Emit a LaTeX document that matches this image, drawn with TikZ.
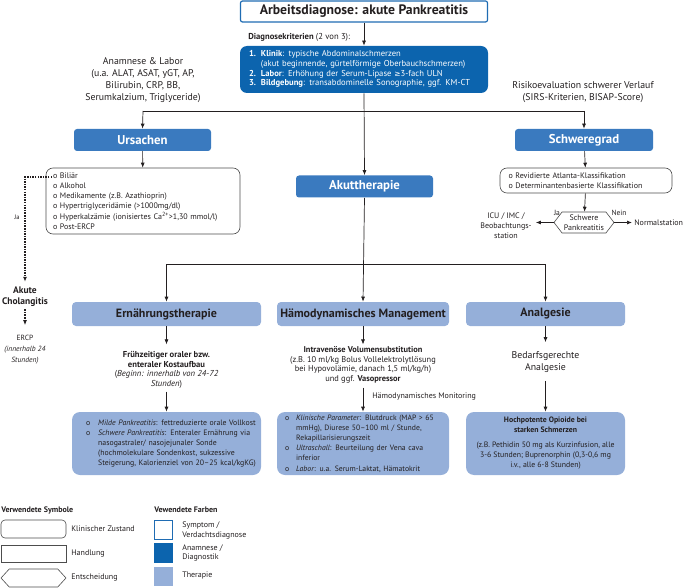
\documentclass[tikz,border=0pt]{standalone}
\usepackage{fontspec}
\setmainfont{PT Sans}
\newfontfamily\djv{DejaVu Sans}
\usetikzlibrary{arrows.meta,shapes.symbols}
\definecolor{dblue}{HTML}{0C64AE}
\definecolor{mblue}{HTML}{3A7ABF}
\definecolor{lblue}{HTML}{95AFD9}
\definecolor{tborder}{HTML}{1F6CB3}
\definecolor{txt}{HTML}{231F20}
\definecolor{gborder}{HTML}{4D4D4D}
\newcommand{\fsz}[2]{\fontsize{#1}{#2}\selectfont}
\begin{document}
\begin{tikzpicture}[x=1pt,y=-1pt,line width=0.7pt,
  arr/.style={-{Latex[length=5pt,width=4pt]},draw=txt},
  ln/.style={draw=txt},
  dotc/.style={draw=txt,line width=1.1pt,dash pattern=on 1.5pt off 1.1pt},
  hdr/.style={rounded corners=3pt,fill=mblue,text=white,font=\fsz{12.8}{14}\bfseries,minimum height=22,inner sep=0},
  ther/.style={rounded corners=4pt,fill=lblue,text=txt,font=\fsz{12}{13}\bfseries,minimum height=24,inner sep=0},
  tbox/.style={rounded corners=8pt,fill=lblue,text=txt,font=\fsz{7.8}{10},minimum height=63,inner sep=0},
  state/.style={draw=gborder,rounded corners=7pt,line width=0.6pt,inner sep=0,text=txt},
  tx/.style={text=txt,align=center,inner sep=0},
  hexa/.style={signal,signal to=west and east,draw=gborder,line width=0.6pt,inner sep=0}
]
\path[use as bounding box] (0,0) rectangle (685,588);

% title and diagnostics
\node[draw=tborder,line width=1.2pt,fill=white,rounded corners=2pt,minimum width=247,minimum height=21,inner sep=0,text=txt,font=\fsz{13.7}{15}\bfseries] (title) at (364,11.5) {Arbeitsdiagnose: akute Pankreatitis};
\node[anchor=west,tx,font=\fsz{8.6}{10}] (dklab) at (248,37) {\textbf{Diagnosekriterien} (2 von 3):};
\node[fill=dblue,rounded corners=7pt,minimum width=248,minimum height=47,text=white,inner sep=0,text width=230,align=left,font=\fsz{8.6}{9.7}] (diag) at (364,69.5) {\begin{tabular}{@{}l@{\hspace{5pt}}l@{}}\textbf{1.} & \textbf{Klinik}: typische Abdominalschmerzen\\ & (akut beginnende, gürtelförmige Oberbauchschmerzen)\\ \textbf{2.} & \textbf{Labor}: Erhöhung der Serum-Lipase {\djv\fsz{7.5}{9}≥}3-fach ULN\\ \textbf{3.} & \textbf{Bildgebung}: transabdominelle Sonographie, ggf. KM-CT\end{tabular}};
\draw[arr] (title) -- (diag);

% left: Ursachen
\node[tx,font=\fsz{9.8}{12}] (anam) at (143,80.5) {Anamnese \& Labor\\(u.a. ALAT, ASAT, yGT, AP,\\Bilirubin, CRP, BB,\\Serumkalzium, Triglyceride)};
\node[hdr,minimum width=137] (urs) at (142.5,140) {Ursachen};
\node[state,minimum width=194,minimum height=66,text width=180,align=left,font=\fsz{8}{10.2}] (urslist) at (143,201) {o Biliär\\o Alkohol\\o Medikamente (z.B. Azathioprin)\\o Hypertriglyceridämie (>1000mg/dl)\\o Hyperkalzämie (ionisiertes Ca\textsuperscript{2+}>1,30 mmol/l)\\o Post-ERCP};
\coordinate (bil) at (52,177);
\node[tx,font=\fsz{9.5}{11}\bfseries] (chol) at (25,297) {Akute\\Cholangitis};
\node[tx,font=\fsz{7.5}{11}] (ercp) at (25,350) {ERCP\\\textit{(innerhalb 24}\\\textit{Stunden)}};
\node[tx,font=\fsz{6.5}{7}] (ja1) at (17,217) {Ja};
\draw[dotc,-{Latex[length=5pt,width=4pt]}] (bil) -| ([yshift=5pt]chol.north);
\draw[dotc,-{Latex[length=5pt,width=4pt]},shorten <=2pt,shorten >=10pt] (chol.south) -- (ercp.north);

% right: Schweregrad
\node[tx,font=\fsz{9.8}{12}] (risk) at (583,92) {Risikoevaluation schwerer Verlauf\\(SIRS-Kriterien, BISAP-Score)};
\node[hdr,minimum width=138] (schw) at (584,140) {Schweregrad};
\node[state,minimum width=172,minimum height=25,text width=155,align=left,font=\fsz{8}{10}] (schwlist) at (586,180.5) {o Revidierte Atlanta-Klassifikation\\o Determinantenbasierte Klassifikation};
\node[hexa,signal pointer angle=105,minimum width=60,minimum height=21,tx,font=\fsz{8}{9.5}] (hex) at (584,222.5) {Schwere\\Pankreatitis};
\node[tx,font=\fsz{8}{10}] (icu) at (506,226) {ICU / IMC /\\Beobachtungs-\\station};
\node[anchor=west,tx,font=\fsz{8}{10}] (norm) at (634,222.5) {Normalstation};
\node[tx,font=\fsz{7.5}{9}] (ja2) at (557,213) {Ja};
\node[tx,font=\fsz{7.5}{9}] (nein) at (619,213) {Nein};
\draw[arr] (schwlist) -- (hex);
\draw[arr,shorten >=4pt] (hex.west) -- (hex.west -| icu.east);
\draw[arr,shorten >=2pt] (hex.east) -- (norm.west);

% center: Akuttherapie
\node[hdr,minimum width=137] (akut) at (364.5,186.5) {Akuttherapie};
\coordinate (hl) at (143,111);
\coordinate (hr) at (584,111);
\draw[ln] (hl) -- (hr);
\draw[arr] (hl) -- (urs.north);
\draw[arr] (hr) -- (schw.north);
\draw[arr] (diag.south) -- (akut.north);
\draw[arr] (urs) -- (urslist);
\draw[arr] (schw) -- (schwlist);

% therapy columns
\node[ther,minimum width=189] (ern) at (166.5,314) {Ernährungstherapie};
\node[ther,minimum width=172] (ham) at (363,314) {Hämodynamisches Management};
\node[ther,minimum width=159] (ana) at (545.5,314) {Analgesie};
\coordinate (tl) at (166.5,264);
\coordinate (tr) at (545.5,264);
\draw[ln] (tl) -- (tr);
\draw[arr] (tl) -- (ern.north);
\draw[arr] (tr) -- (ana.north);
\draw[arr] (akut.south) -- (ham.north);

\node[tx,font=\fsz{8.6}{9.5}] (ernt) at (166.5,370) {\textbf{Frühzeitiger oraler bzw.}\\\textbf{enteraler Kostaufbau}\\(\textit{Beginn: innerhalb von 24-72}\\\textit{Stunden})};
\node[tx,font=\fsz{8.4}{9.5}] (hamt) at (363,365) {\textbf{Intravenöse Volumensubstitution}\\(z.B. 10 ml/kg Bolus Vollelektrolytlösung\\bei Hypovolämie, danach 1,5 ml/kg/h)\\und ggf. \textbf{Vasopressor}};
\node[tx,font=\fsz{9.8}{12}] (anat) at (545.5,362) {Bedarfsgerechte\\Analgesie};

\node[tbox,minimum width=189,text width=161,align=left] (ernb) at (166.5,443.5) {\begin{tabular}{@{}l@{\hspace{8pt}}l@{}}o & \textit{Milde Pankreatitis}: fettreduzierte orale Vollkost\\ o & \textit{Schwere Pankreatitis}: Enteraler Ernährung via\\ & nasogastraler/ nasojejunaler Sonde\\ & (hochmolekulare Sondenkost, sukzessive\\ & Steigerung, Kalorienziel von 20–25 kcal/kgKG)\end{tabular}};
\node[tbox,minimum width=172,text width=156,align=left,font=\fsz{7.7}{10.2}] (hamb) at (363,443.5) {\begin{tabular}{@{}l@{\hspace{7pt}}l@{}}o & \textit{Klinische Parameter}: Blutdruck (MAP > 65\\ & mmHg), Diurese 50–100 ml / Stunde,\\ & Rekapillarisierungszeit\\ o & \textit{Ultraschall}: Beurteilung der Vena cava\\ & inferior\\ o & \textit{Labor}: u.a. Serum-Laktat, Hämatokrit\end{tabular}};
\node[tbox,minimum width=159,align=center] (anab) at (545.5,443.5) {\textbf{Hochpotente Opioide bei}\\\textbf{starken Schmerzen}\\[5pt](z.B. Pethidin 50 mg als Kurzinfusion, alle\\3-6 Stunden; Buprenorphin (0,3-0,6 mg\\i.v., alle 6-8 Stunden)};

\draw[arr,shorten >=7pt] (ern.south) -- (ernt.north);
\draw[arr,shorten <=3pt] (ernt.south) -- (ernb.north);
\draw[arr,shorten >=2pt] (ham.south) -- (hamt.north);
\draw[arr,shorten <=4pt] (hamt.south) -- (hamb.north);
\draw[arr,shorten >=9pt] (ana.south) -- (anat.north);
\draw[arr,shorten <=8pt] (anat.south) -- (anab.north);
\node[anchor=west,tx,font=\fsz{8}{9}] (monlab) at (372,397) {Hämodynamisches Monitoring};

% legend
\node[anchor=west,tx,font=\fsz{8}{9}\bfseries] (lsym) at (1,510) {Verwendete Symbole};
\node[draw=gborder,line width=0.6pt,rounded corners=4pt,minimum width=65,minimum height=18,inner sep=0] (lz) at (33.5,529) {};
\node[anchor=west,tx,font=\fsz{8}{9}] (lzt) at (71,529) {Klinischer Zustand};
\node[draw=gborder,line width=0.6pt,minimum width=65,minimum height=17,inner sep=0] (lh) at (33.5,553.5) {};
\node[anchor=west,tx,font=\fsz{8}{9}] (lht) at (71,553.5) {Handlung};
\node[hexa,signal pointer angle=95,minimum width=65,minimum height=18] (le) at (33.5,578) {};
\node[anchor=west,tx,font=\fsz{8}{9}] (let) at (71,578) {Entscheidung};

\node[anchor=west,tx,font=\fsz{8}{9}\bfseries] (lfar) at (154,510) {Vewendete Farben};
\node[draw=tborder,line width=1.2pt,fill=white,minimum width=18,minimum height=19,inner sep=0] (c1) at (163.5,530) {};
\node[fill=dblue,minimum width=19,minimum height=20,inner sep=0] (c2) at (163.5,553) {};
\node[fill=lblue,minimum width=19,minimum height=19,inner sep=0] (c3) at (163.5,576.5) {};
\node[anchor=west,tx,align=left,font=\fsz{8}{9.5}] (c1t) at (182,530.5) {Symptom /\\Verdachtsdiagnose};
\node[anchor=west,tx,align=left,font=\fsz{8}{9.5}] (c2t) at (182,553) {Anamnese /\\Diagnostik};
\node[anchor=west,tx,align=left,font=\fsz{8}{9.5}] (c3t) at (182,575.5) {Therapie};
\end{tikzpicture}
\end{document}
